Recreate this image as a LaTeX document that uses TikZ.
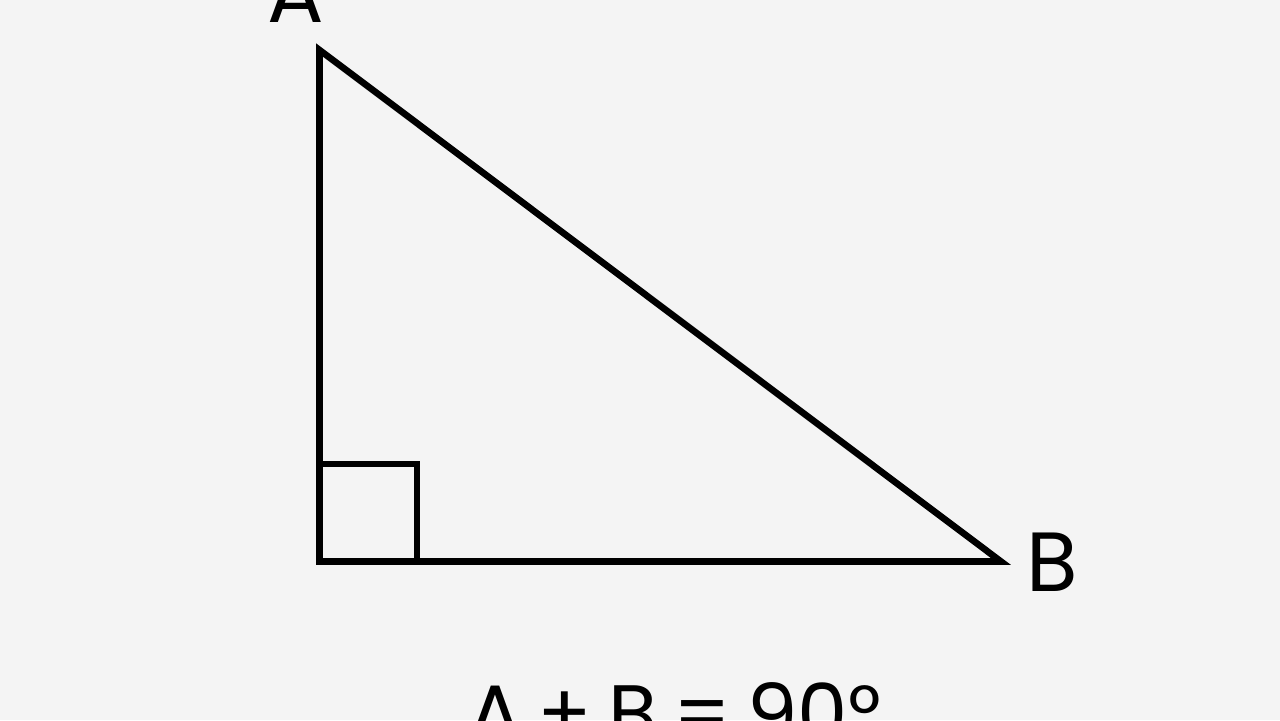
\documentclass[tikz,border=0pt]{standalone}
\usepackage{fontspec}
\setmainfont{Poppins}
\definecolor{bg}{HTML}{F4F4F4}
\begin{document}
\begin{tikzpicture}[x=0.5pt,y=-0.5pt,
  edge/.style={line width=3.3pt,black,line join=miter},
  lbl/.style={inner sep=0pt,anchor=base,font=\fontsize{42}{50}\selectfont}]
\fill[bg] (0,0) rectangle (1280,720);
\useasboundingbox (0,0) rectangle (1280,720);
\coordinate (A) at (319.5,50);
\coordinate (C) at (319.5,561.5);
\coordinate (B) at (1001,561.5);
\draw[edge] (A) -- (C) -- (B) -- cycle;
\coordinate (S1) at (319.5,464);
\coordinate (S2) at (417,464);
\coordinate (S3) at (417,561.5);
\draw[edge] (S1) -- (S2) -- (S3);
\node[lbl] (la) at (296,22.5) {A};
\node[lbl] (lb) at (1052,591) {B};
\node[lbl,font=\fontsize{40}{48}\selectfont] (eq) at (674.5,741) {A\hspace{0.2em}+\hspace{0.2em}B\hspace{0.2em}=\hspace{0.2em}90°};
\end{tikzpicture}
\end{document}
